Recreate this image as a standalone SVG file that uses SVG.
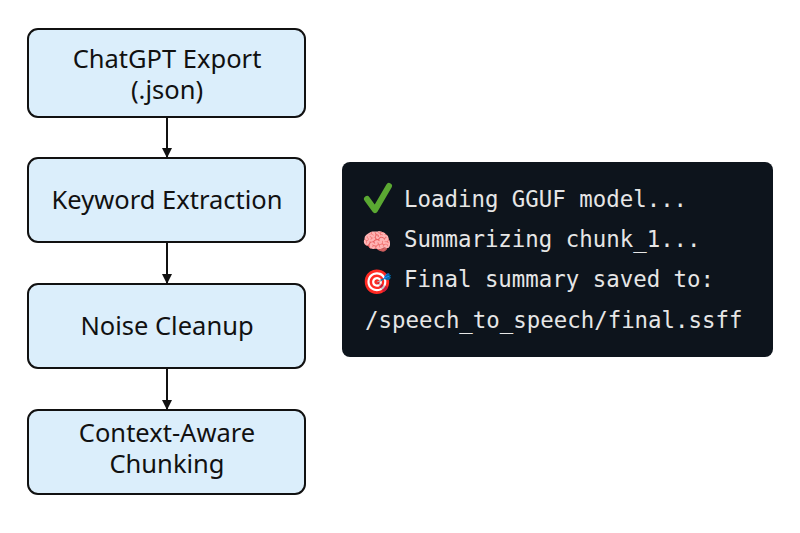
<svg xmlns="http://www.w3.org/2000/svg" width="800" height="533" viewBox="0 0 800 533">
<style>
.box{fill:#dbeefb;stroke:#111;stroke-width:2}
.t{font-family:"Noto Sans","Open Sans",sans-serif;font-size:25.5px;fill:#111;text-anchor:middle}
.c{stroke:#111;stroke-width:2;fill:none}
.m{font-family:"DejaVu Sans Mono","Liberation Mono",monospace;font-size:22.4px;fill:#e6e6e6}
.e{font-family:"Noto Color Emoji","DejaVu Sans",sans-serif;font-size:24px}
</style>
<defs><marker id="a" markerWidth="10" markerHeight="10" refX="9" refY="5" orient="auto" markerUnits="userSpaceOnUse"><path d="M0,0 L10,5 L0,10 Z" fill="#111"/></marker></defs>
<rect width="800" height="533" fill="#fff"/>
<g id="n1"><rect class="box" x="28" y="29" width="277" height="88" rx="10"/><text class="t" x="167" y="68">ChatGPT Export</text><text class="t" x="167" y="99">(.json)</text></g>
<g id="n2"><rect class="box" x="28" y="158" width="277" height="84" rx="10"/><text class="t" x="167" y="209">Keyword Extraction</text></g>
<g id="n3"><rect class="box" x="28" y="284" width="277" height="84" rx="10"/><text class="t" x="167" y="335">Noise Cleanup</text></g>
<g id="n4"><rect class="box" x="28" y="410" width="277" height="84" rx="10"/><text class="t" x="167" y="442">Context-Aware</text><text class="t" x="167" y="473">Chunking</text></g>
<g id="connectors">
<line class="c" x1="167" y1="117" x2="167" y2="157" marker-end="url(#a)"/>
<line class="c" x1="167" y1="242" x2="167" y2="283" marker-end="url(#a)"/>
<line class="c" x1="167" y1="368" x2="167" y2="409" marker-end="url(#a)"/>
</g>
<g id="terminal">
<rect x="342" y="162" width="431" height="195" rx="8" fill="#0d141c"/>
<path d="M367,199 L375,210 L389,186" stroke="#5aa832" stroke-width="6" fill="none" stroke-linecap="round" stroke-linejoin="round"/>
<text class="e" x="362" y="250">🧠</text>
<text class="e" x="362" y="290">🎯</text>
<text class="m" x="404" y="207">Loading GGUF model...</text>
<text class="m" x="404" y="247">Summarizing chunk_1...</text>
<text class="m" x="404" y="287">Final summary saved to:</text>
<text class="m" x="365" y="328">/speech_to_speech/final.ssff</text>
</g>
</svg>
